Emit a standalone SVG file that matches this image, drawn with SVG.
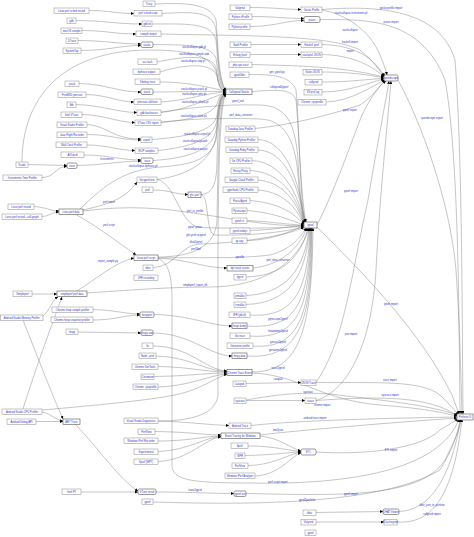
<svg xmlns="http://www.w3.org/2000/svg" width="474" height="537" viewBox="0 0 474 537">
<defs>
<marker id="ah" markerWidth="3" markerHeight="3" refX="3" refY="1.5" orient="auto" markerUnits="userSpaceOnUse"><path d="M0,0 L3,1.5 L0,3z" fill="#000"/></marker>
<style>
.n rect{fill:#fff;stroke:#8a8a8a;stroke-width:0.5}
.h rect{fill:#fff;stroke:#555;stroke-width:0.6}
.n text,.h text{font-family:"Liberation Sans",Arial,sans-serif;font-size:2.6px;fill:#3333cc;text-anchor:middle}
.e path{fill:none;stroke:#808080;stroke-width:0.45;marker-end:url(#ah)}
.e text{font-family:"Liberation Sans",Arial,sans-serif;font-size:2.6px;fill:#3333cc;text-anchor:middle}
</style>
</defs>
<rect width="474" height="537" fill="#fff"/>
<g id="edges" class="e">
<path d="M89,10.5 C110,10.5 115,13.5 134,13.5"/>
<path d="M76,20.5 C105,20.5 115,24 142,24"/>
<path d="M82,30.5 C105,30.5 115,34 136,34"/>
<path d="M78,40.5 C105,40.5 118,44 141,44"/>
<path d="M81,50.5 C108,50.5 120,45.5 141,45.5"/>
<path d="M79,83.5 C105,84 118,92 141,92"/>
<path d="M86,94.5 C108,95 118,102 134,102"/>
<path d="M76,104.5 C100,105 118,112.5 137,112.5"/>
<path d="M82,114.5 C105,115 118,122.5 135,122.5"/>
<path d="M87,124.5 C108,126 112,139 141,139"/>
<path d="M87,134.5 C110,134.5 120,140 141,140"/>
<path d="M87,145 C108,145 118,150.5 135,150.5"/>
<path d="M84,155 C108,155 120,160 141,160"/>
<path d="M77,165.5 C100,165.5 120,161 141,161"/><text x="107" y="160">Instruments</text>
<path d="M28,164.5 L67,165.5"/>
<path d="M42,177.5 C55,177.5 55,166.5 67,166.5"/>
<path d="M22,162 C22,100 60,50 150,50 C200,50 214,60 217,75 C219,88 221,91 226,91"/>
<path d="M155,4 C180,3 210,2 216,20 C218,40 218,80 226,90.5"/>
<path d="M162,13.5 C190,12 213,10 216,30 C218,50 218,82 226,90.5"/>
<path d="M152,24 C185,24 212,22 216,40 C218,60 218,84 226,91"/>
<path d="M153,44.5 C185,45 210,44 216,58 C218,72 219,88 226,91"/><text x="194" y="48">stackcollapse-gdb.pl</text>
<path d="M157,62 C185,56 212,54 216,68 C218,80 219,89 226,91"/><text x="194" y="55">stackcollapse-sample.awk</text>
<path d="M160,72 C185,64 212,62 217,76 C219,86 220,90 226,91"/><text x="193" y="62">stackcollapse-stap.pl</text>
<path d="M160,82 C190,82 210,88 226,91"/>
<path d="M153,92 C180,92 200,91 226,91.5"/><text x="194" y="90">stackcollapse-jstack.pl</text>
<path d="M161,102 C190,100 205,93 226,92"/><text x="194" y="95">stackcollapse-pmc.pl</text>
<path d="M161,112.5 C185,110 205,100 217,96 L226,92.5"/><text x="195" y="103">stackcollapse-elfutils.pl</text>
<path d="M161,122.5 C190,120 212,115 217,104 C219,97 221,93 226,92.5"/><text x="193.5" y="117">stackcollapse-vtune.pl</text>
<path d="M152,139.5 C185,137 214,132 217,115 C219,100 220,94 226,93"/><text x="197" y="135">stackcollapse-vsprof.pl</text>
<path d="M158,150.5 C190,147 214,140 217,120 C219,104 220,95 226,93"/><text x="195" y="142">stackcollapse-ljp.awk</text>
<path d="M153,160.5 C190,158 215,150 217,125 C219,105 220,96 226,93"/><text x="195.5" y="150">stackcollapse-wcp.pl</text>
<path d="M157,179.5 C190,175 215,160 217,130 C219,105 220,96 226,93.5"/>
<path d="M153,190 C170,190 175,194.5 188,194.5"/>
<path d="M201,194.5 C212,194 217,185 217,160 C218,120 220,98 226,93.5"/>
<path d="M158,257 C195,257 216,245 217,220 C218,160 219,100 226,93.5"/>
<path d="M80,209 C100,190 120,170 160,167 C190,165 210,160 216,140 C219,110 220,97 226,93.5"/><text x="143" y="167">stackcollapse-bpftrace.pl</text>
<path d="M158,421 C190,421 216,415 218,395 L218,250 C218.5,160 220,104 226,94"/>
<path d="M161,34 C250,36 330,35 360,50 C375,62 380,72 384,76"/><text x="350" y="31">stackcollapse</text>
<path d="M250,7.5 C275,7.5 285,9.5 301,9.5"/>
<path d="M252,16.5 C275,16.5 285,18.5 304,18.5"/>
<path d="M250,26.5 C275,26.5 285,20.5 304,20.5"/>
<path d="M251,44.5 L301,44.5"/>
<path d="M250,54.5 L301,54.5"/>
<path d="M252,64.5 C300,66 340,66 384,77"/>
<path d="M249,74.5 C275,74.5 290,76 296,90 C299,120 300,200 305,222"/><text x="277" y="73">gen_pprof.py</text>
<path d="M252,91.5 C275,90 292,88 296,100 C299,130 301,200 306,222"/><text x="279" y="88">collapsed2pprof</text>
<path d="M161,112 C190,108 220,104 260,105 C285,106 295,120 298,160 C300,200 303,215 306,222"/><text x="238" y="102">pprof_tool</text>
<path d="M161,122 C200,118 230,118 260,119 C285,120 295,140 298,175 C300,205 304,218 306,222"/><text x="241" y="116">perf_data_converter</text>
<path d="M255,128.5 C290,125 330,115 360,105 C375,95 380,85 385,80"/><text x="350" y="111">pprof export</text>
<path d="M258,139.5 C285,140 300,180 304,223"/>
<path d="M258,150 C285,151 299,185 304,223"/>
<path d="M252,160.5 C280,162 298,190 304,223.5"/>
<path d="M250,170.5 C280,172 297,195 304,224"/>
<path d="M258,180 C282,182 296,200 304,224"/>
<path d="M258,190 C282,192 295,205 304,224.5"/>
<path d="M250,200.5 C278,203 293,212 304,224.5"/>
<path d="M247,210.5 C275,213 290,220 304,225"/>
<path d="M247,220.5 C275,222 290,225 304,225"/>
<path d="M250,230.5 C275,230 290,226 304,225.5"/>
<path d="M247,240.5 C275,240 292,230 304,226"/>
<path d="M83,211 C130,205 160,208 200,214 C240,220 270,226 304,226"/><text x="195" y="212">perf_to_profile</text>
<path d="M157,179.5 C175,182 180,226 200,227.5 C240,229 280,228 304,226.5"/><text x="195" y="228">pprof -proto</text>
<path d="M201,194.5 C210,196 205,234 215,235 C250,236 285,232 304,227"/><text x="196" y="236">ghc-prof-to-pprof</text>
<path d="M153,267.5 C175,267 180,245 200,244 C240,243 285,236 304,227.5"/><text x="196" y="243">dhat2pprof</text>
<path d="M158,258 C200,257 240,259 270,255 C290,250 300,238 306,228"/><text x="240" y="258">pprofile</text>
<path d="M158,258 C190,260 205,268 227,268"/><text x="196" y="250">perf2bpf</text>
<path d="M253,268 C280,265 298,250 307,228"/><text x="278" y="261">perf_data_converter</text>
<path d="M246,277 C280,276 300,260 308,228"/>
<path d="M246,295.5 C285,294 305,270 309,228"/>
<path d="M246,304.5 C290,303 306,275 309.5,228"/>
<path d="M250,315 C295,318 308,290 310,228"/><text x="278" y="320">pyroscope2pprof</text>
<path d="M247,326 C298,330 309,300 310.5,228"/><text x="278" y="332">heapdump2pprof</text>
<path d="M250,336 C300,340 310,305 311,228"/><text x="278" y="343">gotrace2pprof</text>
<path d="M253,346 C302,350 311,310 311.5,228"/><text x="278" y="351">goroutine2pprof</text>
<path d="M247,356 C303,360 312,315 312,228"/>
<path d="M252,372 C300,372 312,330 313,228"/><text x="278" y="369">trace2pprof</text>
<path d="M246,383.5 L301,382.5"/><text x="278" y="380">catapult</text>
<path d="M246,400.5 L305,400.5"/>
<path d="M87,293 C130,290 170,287 210,287 C260,287 298,265 309,228"/><text x="195" y="286">simpleperf_report_lib</text>
<path d="M77,291 C95,280 115,262 134,258"/><text x="108" y="262">report_sample.py</text>
<path d="M75,214 C95,225 115,240 136,255"/><text x="109" y="226">perf script</text>
<path d="M83,210 C105,205 125,200 137,182"/><text x="109" y="203">perf report</text>
<path d="M34,206.5 C45,207 50,211 59,211"/>
<path d="M42,216.5 C50,216 52,212 59,212"/>
<path d="M32,294 L57,294"/>
<path d="M43,316 C50,310 52,300 58,297"/>
<path d="M23,409 C35,370 50,330 62,297"/>
<path d="M23,320 C35,350 50,390 63,419"/>
<path d="M42,412 C52,414 55,420 63,421"/>
<path d="M36,421.5 L63,421.5"/>
<path d="M42,410 C100,405 150,400 175,395 C200,390 215,378 227,374"/>
<path d="M75,424 C100,450 120,480 138,491"/>
<path d="M81,492 L138,492"/>
<path d="M156,492 C190,492 210,493.5 234,493.5"/><text x="195" y="491">vtune2gprof</text>
<path d="M93,309.5 C115,310 125,314 140,314"/>
<path d="M93,320 C115,320 125,315 140,315"/>
<path d="M78,332 L141,333"/>
<path d="M154,314.5 C190,315 210,326 232,326"/>
<path d="M153,333 C190,333 210,356 232,356"/>
<path d="M153,346 C190,346 205,370 227,371"/>
<path d="M156,356 C190,357 205,371 227,371.5"/>
<path d="M158,366.5 C190,367 205,372 227,372"/>
<path d="M154,376.5 C190,376 205,373 227,373"/>
<path d="M158,387 C190,386 210,375 227,374"/>
<path d="M158,421 C190,422 210,425 229,425.5"/>
<path d="M155,431.5 C190,432 205,435 221,435"/>
<path d="M158,441 C190,441 205,436 221,436"/>
<path d="M158,451.5 C190,450 205,437 221,436.5"/>
<path d="M158,461.5 C190,460 205,438 221,437"/>
<path d="M260,436 C280,438 290,448 301,451"/>
<path d="M248,446 C275,446 290,451 301,451.5"/>
<path d="M245,455.5 C275,455 290,452 301,452"/>
<path d="M248,465.5 C275,465 290,453 301,452.5"/>
<path d="M255,476 C280,475 292,455 301,453"/>
<path d="M316,512.5 L383,511.5"/>
<path d="M316,522 L384,522"/>
<path d="M153,502 C250,505 380,505 440,470 C452,450 458,435 460,419"/><text x="307" y="501">gprof2perfetto</text>
<path d="M246,493.5 C330,495 420,500 445,460 C455,440 459,430 461,419"/><text x="351" y="495">gprof import</text>
<path d="M158,258.5 C168,262 172,275 172,300 L172,465 C172,480 190,483 250,483 C350,485 440,470 459,419"/><text x="278" y="483">perf script import</text>
<path d="M251,425.5 C300,420 400,418 457,417"/><text x="315" y="419">android trace import</text>
<path d="M260,435 C300,430 400,422 457,418"/><text x="278" y="431">etw2json</text>
<path d="M316,452 C360,455 420,450 440,430 L458,419"/><text x="391" y="451">ETL import</text>
<path d="M252,373 C300,375 320,400 380,405 C420,408 440,412 457,416"/><text x="322" y="406">chrome import</text>
<path d="M246,400 C280,394 300,392 330,394 C380,400 430,405 457,415"/><text x="308" y="393">systrace</text>
<path d="M399,511.5 C430,510 450,480 461,419"/><text x="432" y="506">dhat_json_to_perfetto</text>
<path d="M397,522 C440,525 455,480 462,419"/><text x="432" y="515">callgrind import</text>
<path d="M316,382.5 C345,340 350,280 368,200 C378,140 386,100 389,81"/><text x="351" y="335">json import</text>
<path d="M316,400.5 C350,390 372,340 376,270 C380,190 388,120 391,81"/>
<path d="M317,225 C335,190 352,140 362,115 C372,95 380,85 386,81"/><text x="351" y="192">pprof import</text>
<path d="M317,227 C360,270 420,330 452,395 L459,414"/><text x="391" y="305">pprof import</text>
<path d="M316,382.5 C380,383 420,380 440,395 C450,405 455,410 458,415"/><text x="390" y="381">trace import</text>
<path d="M316,400.5 C380,396 430,396 457.5,416"/><text x="390" y="396">systrace import</text>
<path d="M398,80 C420,120 450,200 456,270 C460,330 461,380 462,414"/><text x="432" y="119">speedscope export</text>
<path d="M322,9.5 C380,5 440,10 455,60 C462,150 462,300 463,414"/><text x="391" y="9">gecko profile import</text>
<path d="M320,19.5 C360,20 420,15 445,80 C458,150 459,300 460,414"/><text x="391" y="23">pstats import</text>
<path d="M322,10 C345,14 370,30 380,55 C384,65 386,70 387,75"/><text x="351" y="14">stackcollapse-instruments.pl</text>
<path d="M322,44.5 C350,45 370,55 380,70 L385,76"/><text x="350" y="43">haskell import</text>
<path d="M322,54.5 C350,55 372,65 384,77"/><text x="350" y="52">import</text>
<path d="M322,72 C350,72 370,75 384,78"/>
<path d="M322,82 C350,82 370,79 384,78.5"/>
<path d="M322,92 C350,92 370,82 384,79"/>
<path d="M326,102 C352,101 372,86 385,80"/>
</g>
<g id="nodes">
<g id="n_xcode" class="n"><rect x="16" y="162" width="12" height="5.5"/><text x="22" y="165.7">Xcode</text></g>
<g id="n_instr_tp" class="n"><rect x="3" y="175" width="39" height="5.5"/><text x="22.5" y="178.7">Instruments Time Profiler</text></g>
<g id="n_perf_rec" class="n"><rect x="8" y="204" width="26" height="5.5"/><text x="21" y="207.7">Linux perf record</text></g>
<g id="n_perf_rec_g" class="n"><rect x="2" y="214" width="40" height="5.5"/><text x="22" y="217.7">Linux perf record --call-graph</text></g>
<g id="n_simpleperf" class="n"><rect x="13" y="291" width="19" height="5.5"/><text x="22.5" y="294.7">Simpleperf</text></g>
<g id="n_as_mem" class="n"><rect x="0.5" y="315" width="42.5" height="5.5"/><text x="21.7" y="318.7">Android Studio Memory Profiler</text></g>
<g id="n_as_cpu" class="n"><rect x="2" y="409" width="40" height="5.5"/><text x="22" y="412.7">Android Studio CPU Profiler</text></g>
<g id="n_debug_api" class="n"><rect x="7" y="419" width="29" height="5.5"/><text x="21.5" y="422.7">Android Debug API</text></g>

<g id="n_b1" class="n"><rect x="54" y="8" width="35" height="5.5"/><text x="71.5" y="11.7">Linux perf sched record</text></g>
<g id="n_b2" class="n"><rect x="67" y="18" width="9" height="5.5"/><text x="71.5" y="21.7">gdb</text></g>
<g id="n_b3" class="n"><rect x="61" y="28" width="21" height="5.5"/><text x="71.5" y="31.7">macOS sample</text></g>
<g id="n_b4" class="n"><rect x="66" y="38" width="12" height="5.5"/><text x="72" y="41.7">DTrace</text></g>
<g id="n_b5" class="n"><rect x="63" y="48" width="18" height="5.5"/><text x="72" y="51.7">SystemTap</text></g>
<g id="n_b6" class="n"><rect x="65" y="81" width="14" height="5.5"/><text x="72" y="84.7">jstack</text></g>
<g id="n_b7" class="n"><rect x="58" y="92" width="28" height="5.5"/><text x="72" y="95.7">FreeBSD pmcstat</text></g>
<g id="n_b8" class="n"><rect x="67" y="102" width="9" height="5.5"/><text x="71.5" y="105.7">lldb</text></g>
<g id="n_b9" class="n"><rect x="61" y="112" width="21" height="5.5"/><text x="71.5" y="115.7">Intel VTune</text></g>
<g id="n_b10" class="n"><rect x="57" y="122" width="30" height="5.5"/><text x="72" y="125.7">Visual Studio Profiler</text></g>
<g id="n_b11" class="n"><rect x="57" y="132" width="30" height="5.5"/><text x="72" y="135.7">Java Flight Recorder</text></g>
<g id="n_b12" class="n"><rect x="56" y="142" width="31" height="5.5"/><text x="71.5" y="145.7">Wall Clock Profiler</text></g>
<g id="n_b13" class="n"><rect x="61" y="152" width="23" height="5.5"/><text x="72.5" y="155.7">AIX tprof</text></g>
<g id="n_b14" class="h"><rect x="67" y="163" width="10" height="5.5" rx="1.5"/><text x="72" y="166.7">trace</text></g>
<g id="n_perfdata" class="h"><rect x="59" y="209" width="24" height="5.5"/><text x="71" y="212.7">Linux perf.data</text></g>
<g id="n_b16" class="h"><rect x="57" y="291" width="30" height="5.5"/><text x="72" y="294.7">simpleperf perf.data</text></g>
<g id="n_b17" class="n"><rect x="52" y="307" width="41" height="5.5"/><text x="72.5" y="310.7">Chrome heap sample profiler</text></g>
<g id="n_b18" class="n"><rect x="51" y="317" width="42" height="5.5"/><text x="72" y="320.7">Chrome heap snapshot profiler</text></g>
<g id="n_b19" class="n"><rect x="66" y="329" width="12" height="5.5"/><text x="72" y="332.7">rbspy</text></g>
<g id="n_art" class="h"><rect x="63" y="419" width="17" height="5.5"/><text x="71.5" y="422.7">ART Trace</text></g>
<g id="n_b21" class="n"><rect x="62" y="489" width="19" height="5.5"/><text x="71.5" y="492.7">Intel PT</text></g>

<g id="n_c0" class="n"><rect x="143" y="1" width="12" height="5.5"/><text x="149" y="4.7">Tracy</text></g>
<g id="n_c1" class="n"><rect x="134" y="10.5" width="28" height="5.5"/><text x="148" y="14.2">perf sched script</text></g>
<g id="n_c2" class="n"><rect x="142" y="21" width="10" height="5.5"/><text x="147" y="24.7">gdb bt</text></g>
<g id="n_c3" class="n"><rect x="136" y="31" width="25" height="5.5"/><text x="148.5" y="34.7">sample output</text></g>
<g id="n_c4" class="h"><rect x="141" y="42" width="12" height="5.5" rx="1.5"/><text x="147" y="45.7">stacks</text></g>
<g id="n_c5" class="n"><rect x="138" y="59" width="19" height="5.5"/><text x="147.5" y="62.7">eu-stack</text></g>
<g id="n_c6" class="n"><rect x="133" y="69" width="27" height="5.5"/><text x="146.5" y="72.7">bpftrace output</text></g>
<g id="n_c7" class="n"><rect x="135" y="79" width="25" height="5.5"/><text x="147.5" y="82.7">Xdebug trace</text></g>
<g id="n_c8" class="h"><rect x="141" y="89" width="12" height="5.5" rx="1.5"/><text x="147" y="92.7">jstack</text></g>
<g id="n_c9" class="n"><rect x="134" y="99" width="27" height="5.5"/><text x="147.5" y="102.7">pmcstat callchain</text></g>
<g id="n_c10" class="n"><rect x="137" y="110" width="24" height="5.5"/><text x="149" y="113.7">gdb backtraces</text></g>
<g id="n_c11" class="n"><rect x="135" y="120" width="26" height="5.5"/><text x="148" y="123.7">VTune CSV report</text></g>
<g id="n_c12" class="n"><rect x="141" y="137" width="11" height="5.5"/><text x="146.5" y="140.7">vsprof</text></g>
<g id="n_c13" class="n"><rect x="135" y="148" width="23" height="5.5"/><text x="146.5" y="151.7">WCP samples</text></g>
<g id="n_c14" class="h"><rect x="141" y="158" width="12" height="5.5" rx="1.5"/><text x="147" y="161.7">.trace</text></g>
<g id="n_c15" class="n"><rect x="137" y="177" width="20" height="5.5"/><text x="147" y="180.7">Go pprof text</text></g>
<g id="n_c16" class="n"><rect x="142" y="187" width="11" height="5.5"/><text x="147.5" y="190.7">prof</text></g>
<g id="n_d0" class="h"><rect x="188" y="192" width="13" height="5.5"/><text x="194.5" y="195.7">ghc.prof</text></g>
<g id="n_c17" class="h"><rect x="134" y="255" width="24" height="5.5"/><text x="146" y="258.7">Linux perf script</text></g>
<g id="n_c18" class="n"><rect x="143" y="265" width="10" height="5.5"/><text x="148" y="268.7">dhat</text></g>
<g id="n_c19" class="n"><rect x="134" y="275" width="24" height="5.5"/><text x="146" y="278.7">JFR recording</text></g>
<g id="n_c20" class="h"><rect x="140" y="312" width="14" height="5.5" rx="1.5"/><text x="147" y="315.7">heapprof</text></g>
<g id="n_c21" class="h"><rect x="141" y="330" width="12" height="5.5" rx="1.5"/><text x="147" y="333.7">rbspy raw</text></g>
<g id="n_c22" class="n"><rect x="142" y="343" width="11" height="5.5"/><text x="147.5" y="346.7">0x</text></g>
<g id="n_c23" class="n"><rect x="139" y="353" width="17" height="5.5"/><text x="147.5" y="356.7">Node --prof</text></g>
<g id="n_c24" class="n"><rect x="132" y="364" width="26" height="5.5"/><text x="145" y="367.7">Chrome DevTools</text></g>
<g id="n_c25" class="n"><rect x="141" y="374" width="13" height="5.5"/><text x="147.5" y="377.7">Chromium</text></g>
<g id="n_c26" class="n"><rect x="133" y="384" width="25" height="5.5"/><text x="145.5" y="387.7">Chrome .cpuprofile</text></g>
<g id="n_c27" class="n"><rect x="124" y="418" width="34" height="5.5"/><text x="141" y="421.7">Visual Studio Diagnostics</text></g>
<g id="n_c28" class="n"><rect x="138" y="429" width="17" height="5.5"/><text x="146.5" y="432.7">PerfView</text></g>
<g id="n_c29" class="n"><rect x="124" y="438" width="34" height="5.5"/><text x="141" y="441.7">Windows Perf Recorder</text></g>
<g id="n_c30" class="n"><rect x="134" y="449" width="24" height="5.5"/><text x="146" y="452.7">Superluminal</text></g>
<g id="n_c31" class="n"><rect x="134" y="459" width="24" height="5.5"/><text x="146" y="462.7">Xperf (WPT)</text></g>
<g id="n_c32" class="h"><rect x="138" y="489" width="18" height="5.5" rx="1.5"/><text x="147" y="492.7">VTune result</text></g>
<g id="n_c33" class="n"><rect x="142" y="499" width="11" height="5.5"/><text x="147.5" y="502.7">gprof</text></g>

<g id="n_e0" class="n"><rect x="230" y="5" width="20" height="5.5"/><text x="240" y="8.7">Valgrind</text></g>
<g id="n_e1" class="n"><rect x="229" y="14" width="23" height="5.5"/><text x="240.5" y="17.7">Python cProfile</text></g>
<g id="n_e2" class="n"><rect x="229" y="24" width="21" height="5.5"/><text x="239.5" y="27.7">Python profile</text></g>
<g id="n_e3" class="n"><rect x="230" y="42" width="21" height="5.5"/><text x="240.5" y="45.7">Swift Profiler</text></g>
<g id="n_e4" class="n"><rect x="230" y="52" width="20" height="5.5"/><text x="240" y="55.7">Erlang fprof</text></g>
<g id="n_e5" class="n"><rect x="229" y="62" width="23" height="5.5"/><text x="240.5" y="65.7">php-spx trace</text></g>
<g id="n_e6" class="n"><rect x="230" y="72" width="19" height="5.5"/><text x="239.5" y="75.7">gprof2dot</text></g>
<g id="n_e7" class="h"><rect x="226" y="89" width="26" height="5.5"/><text x="239" y="92.7">Collapsed Stacks</text></g>
<g id="n_e8" class="n"><rect x="226" y="126" width="29" height="5.5"/><text x="240.5" y="129.7">Datadog Java Profiler</text></g>
<g id="n_e9" class="n"><rect x="225" y="137" width="33" height="5.5"/><text x="241.5" y="140.7">Datadog Python Profiler</text></g>
<g id="n_e10" class="n"><rect x="226" y="147" width="32" height="5.5"/><text x="242" y="150.7">Datadog Ruby Profiler</text></g>
<g id="n_e11" class="n"><rect x="230" y="158" width="22" height="5.5"/><text x="241" y="161.7">Go CPU Profiler</text></g>
<g id="n_e12" class="n"><rect x="231" y="168" width="19" height="5.5"/><text x="240.5" y="171.7">Envoy Proxy</text></g>
<g id="n_e13" class="n"><rect x="225" y="177" width="33" height="5.5"/><text x="241.5" y="180.7">Google Cloud Profiler</text></g>
<g id="n_e14" class="n"><rect x="223" y="187" width="35" height="5.5"/><text x="240.5" y="190.7">gperftools CPU Profiler</text></g>
<g id="n_e15" class="n"><rect x="230" y="198" width="20" height="5.5"/><text x="240" y="201.7">Parca Agent</text></g>
<g id="n_e16" class="n"><rect x="232" y="208" width="15" height="5.5"/><text x="239.5" y="211.7">Pyroscope</text></g>
<g id="n_e17" class="n"><rect x="232" y="218" width="15" height="5.5"/><text x="239.5" y="221.7">pprof-rs</text></g>
<g id="n_e18" class="n"><rect x="230" y="228" width="20" height="5.5"/><text x="240" y="231.7">pprof-nodejs</text></g>
<g id="n_e19" class="n"><rect x="232" y="238" width="15" height="5.5"/><text x="239.5" y="241.7">py-spy</text></g>
<g id="n_e20" class="h"><rect x="227" y="265.5" width="26" height="5.5"/><text x="240" y="269.2">bpf stack counts</text></g>
<g id="n_e21" class="n"><rect x="234" y="274.5" width="12" height="5.5"/><text x="240" y="278.2">fgprof</text></g>
<g id="n_e22" class="n"><rect x="234" y="293" width="12" height="5.5"/><text x="240" y="296.7">jemalloc</text></g>
<g id="n_e23" class="n"><rect x="234" y="302" width="12" height="5.5"/><text x="240" y="305.7">tcmalloc</text></g>
<g id="n_e24" class="n"><rect x="229" y="312" width="21" height="5.5"/><text x="239.5" y="315.7">JFR (jdk.jfr)</text></g>
<g id="n_e25" class="h"><rect x="232" y="323" width="15" height="5.5"/><text x="239.5" y="326.7">heap dump</text></g>
<g id="n_e26" class="n"><rect x="230" y="333" width="20" height="5.5"/><text x="240" y="336.7">Go trace</text></g>
<g id="n_e27" class="n"><rect x="227" y="343" width="26" height="5.5"/><text x="240" y="346.7">Goroutine profile</text></g>
<g id="n_e28" class="h"><rect x="232" y="353" width="15" height="5.5"/><text x="239.5" y="356.7">rbspy data</text></g>
<g id="n_e29" class="h"><rect x="227" y="369.5" width="25" height="6"/><text x="239.5" y="373.5">Chrome Trace Event</text></g>
<g id="n_e30" class="n"><rect x="233" y="381" width="13" height="5.5"/><text x="239.5" y="384.7">Catapult</text></g>
<g id="n_e31" class="n"><rect x="234" y="398" width="12" height="5.5"/><text x="240" y="401.7">systrace</text></g>
<g id="n_e32" class="n"><rect x="229" y="423" width="22" height="5.5"/><text x="240" y="426.7">Android Trace</text></g>
<g id="n_e33" class="h"><rect x="221" y="433" width="39" height="5.5"/><text x="240.5" y="436.7">Event Tracing for Windows</text></g>
<g id="n_e34" class="n"><rect x="231" y="443" width="17" height="5.5"/><text x="239.5" y="446.7">Xperf</text></g>
<g id="n_e35" class="n"><rect x="235" y="453" width="10" height="5.5"/><text x="240" y="456.7">WPR</text></g>
<g id="n_e36" class="n"><rect x="232" y="463" width="16" height="5.5"/><text x="240" y="466.7">PerfView</text></g>
<g id="n_e37" class="n"><rect x="225" y="473" width="30" height="5.5"/><text x="240" y="476.7">Windows Perf Analyzer</text></g>
<g id="n_e38" class="h"><rect x="234" y="491" width="12" height="5.5" rx="1.5"/><text x="240" y="494.7">gprof out</text></g>

<g id="n_f0" class="n"><rect x="301" y="7" width="21" height="5.5"/><text x="311.5" y="10.7">Gecko Profile</text></g>
<g id="n_f1" class="h"><rect x="304" y="16.5" width="16" height="6" rx="1.5"/><text x="312" y="20.5">pstats</text></g>
<g id="n_f2" class="n"><rect x="301" y="42" width="21" height="5.5"/><text x="311.5" y="45.7">Haskell .prof</text></g>
<g id="n_f3" class="n"><rect x="301" y="52" width="21" height="5.5"/><text x="311.5" y="55.7">stackprof JSON</text></g>
<g id="n_f4" class="n"><rect x="303" y="69.5" width="19" height="5.5"/><text x="312.5" y="73.2">Safari JSON</text></g>
<g id="n_f5" class="n"><rect x="305" y="79.5" width="17" height="5.5"/><text x="313.5" y="83.2">callgrind</text></g>
<g id="n_f6" class="n"><rect x="304" y="89.5" width="18" height="5.5"/><text x="313" y="93.2">V8 prof log</text></g>
<g id="n_f7" class="n"><rect x="298" y="99.5" width="28" height="5.5"/><text x="312" y="103.2">Chrome .cpuprofile</text></g>
<g id="n_pprof" class="h"><rect x="304" y="222" width="13" height="6"/><text x="310.5" y="226">pprof</text></g>
<g id="n_f8" class="n"><rect x="301" y="380" width="15" height="5.5"/><text x="308.5" y="383.7">JSON Trace</text></g>
<g id="n_f9" class="n"><rect x="305" y="398" width="11" height="5.5"/><text x="310.5" y="401.7">ctrace</text></g>
<g id="n_f10" class="h"><rect x="301" y="449" width="15" height="6" rx="1.5"/><text x="308.5" y="453">ETL</text></g>
<g id="n_f11" class="n"><rect x="303" y="510" width="13" height="5.5"/><text x="309.5" y="513.7">dhat</text></g>
<g id="n_f12" class="n"><rect x="301" y="519.5" width="15" height="5.5"/><text x="308.5" y="523.2">Valgrind</text></g>
<g id="n_f13" class="n"><rect x="305" y="530" width="11" height="5.5"/><text x="310.5" y="533.7">gprof</text></g>

<g id="n_hubA" class="h"><rect x="384" y="75" width="14" height="6" rx="1.5"/><text x="391" y="79">speedscope</text></g>
<g id="n_g1" class="h"><rect x="383" y="509" width="16" height="5.5" rx="1.5"/><text x="391" y="512.7">DHAT Viewer</text></g>
<g id="n_g2" class="n"><rect x="384" y="519.5" width="13" height="5.5"/><text x="390.5" y="523.2">KCachegrind</text></g>
<g id="n_hubC" class="h"><rect x="457" y="414" width="16" height="6"/><text x="465" y="418">Perfetto UI</text></g>
</g>
</svg>
